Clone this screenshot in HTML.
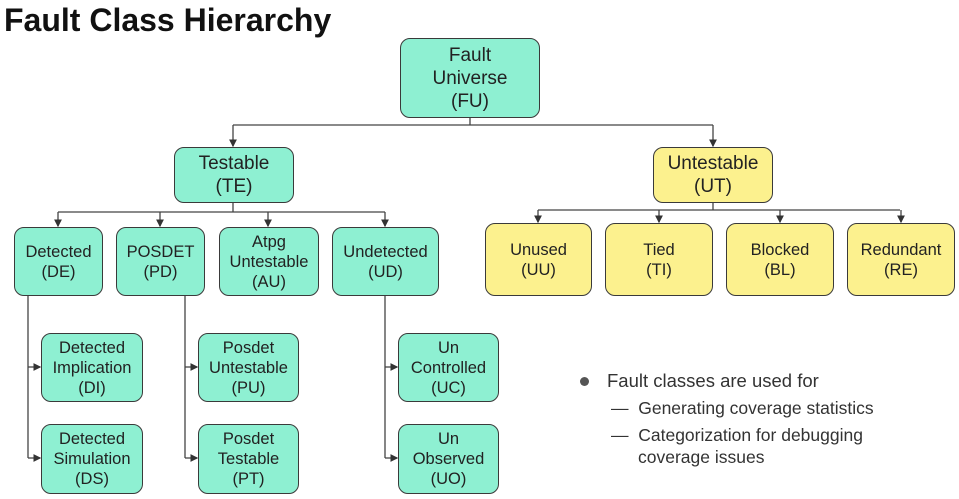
<!DOCTYPE html>
<html><head><style>
body{margin:0;width:959px;height:499px;background:#fff;position:relative;overflow:hidden;font-family:"Liberation Sans",Arial,sans-serif;}
.b{position:absolute;box-sizing:border-box;border:1.5px solid #3a3a3a;border-radius:10px;display:flex;align-items:center;justify-content:center;text-align:center;color:#222;font-size:16.5px;line-height:20px;white-space:nowrap;}
.g{background:#8ef0d2;}
.y{background:#fcf18e;}
.t{position:absolute;color:#333;font-size:17.5px;white-space:nowrap;}
</style></head><body>
<div style="position:absolute;left:4px;top:2px;font-size:32px;font-weight:bold;color:#111;">Fault Class Hierarchy</div>
<svg width="959" height="499" style="position:absolute;left:0;top:0">
<defs><marker id="a" markerWidth="6" markerHeight="6" refX="5" refY="3" orient="auto"><path d="M0,0L6,3L0,6z" fill="#333"/></marker></defs>
<g stroke="#444" stroke-width="1.3" fill="none">
<path d="M470 118V125M233 125H713" />
<path d="M233 125V146" marker-end="url(#a)"/><path d="M713 125V146" marker-end="url(#a)"/>
<path d="M233 203V212M58 212H385"/>
<path d="M58 212V226" marker-end="url(#a)"/><path d="M160 212V226" marker-end="url(#a)"/><path d="M268 212V226" marker-end="url(#a)"/><path d="M385 212V226" marker-end="url(#a)"/>
<path d="M713 203V210M538 210H900"/>
<path d="M538 210V222" marker-end="url(#a)"/><path d="M659 210V222" marker-end="url(#a)"/><path d="M780 210V222" marker-end="url(#a)"/><path d="M901 210V222" marker-end="url(#a)"/>
<path d="M28 295V458"/><path d="M28 367H40" marker-end="url(#a)"/><path d="M28 458H40" marker-end="url(#a)"/>
<path d="M185 295V458"/><path d="M185 367H197" marker-end="url(#a)"/><path d="M185 458H197" marker-end="url(#a)"/>
<path d="M385 295V458"/><path d="M385 367H397" marker-end="url(#a)"/><path d="M385 458H397" marker-end="url(#a)"/>
</g></svg>
<div class="b g" style="left:400px;top:38px;width:140px;height:80px;font-size:19px;line-height:23px">Fault<br>Universe<br>(FU)</div>
<div class="b g" style="left:174px;top:147px;width:120px;height:56px;font-size:19px;line-height:23px">Testable<br>(TE)</div>
<div class="b y" style="left:653px;top:147px;width:120px;height:56px;font-size:19px;line-height:23px">Untestable<br>(UT)</div>
<div class="b g" style="left:14px;top:227px;width:89px;height:69px">Detected<br>(DE)</div>
<div class="b g" style="left:116px;top:227px;width:89px;height:69px">POSDET<br>(PD)</div>
<div class="b g" style="left:219px;top:227px;width:100px;height:69px">Atpg<br>Untestable<br>(AU)</div>
<div class="b g" style="left:332px;top:227px;width:107px;height:69px">Undetected<br>(UD)</div>
<div class="b y" style="left:485px;top:223px;width:107px;height:73px">Unused<br>(UU)</div>
<div class="b y" style="left:605px;top:223px;width:108px;height:73px">Tied<br>(TI)</div>
<div class="b y" style="left:726px;top:223px;width:108px;height:73px">Blocked<br>(BL)</div>
<div class="b y" style="left:847px;top:223px;width:108px;height:73px">Redundant<br>(RE)</div>
<div class="b g" style="left:41px;top:333px;width:102px;height:69px">Detected<br>Implication<br>(DI)</div>
<div class="b g" style="left:41px;top:424px;width:102px;height:70px">Detected<br>Simulation<br>(DS)</div>
<div class="b g" style="left:198px;top:333px;width:101px;height:69px">Posdet<br>Untestable<br>(PU)</div>
<div class="b g" style="left:198px;top:424px;width:101px;height:70px">Posdet<br>Testable<br>(PT)</div>
<div class="b g" style="left:398px;top:333px;width:101px;height:69px">Un<br>Controlled<br>(UC)</div>
<div class="b g" style="left:398px;top:424px;width:101px;height:70px">Un<br>Observed<br>(UO)</div>
<div style="position:absolute;left:580px;top:377px;width:9px;height:9px;border-radius:50%;background:#555"></div>
<div class="t" style="left:607px;top:370px;font-size:18.5px">Fault classes are used for</div>
<div class="t" style="left:611px;top:398px">—&nbsp;&nbsp;Generating coverage statistics</div>
<div class="t" style="left:611px;top:425px">—&nbsp;&nbsp;Categorization for debugging</div>
<div class="t" style="left:638px;top:447px">coverage issues</div>
</body></html>
